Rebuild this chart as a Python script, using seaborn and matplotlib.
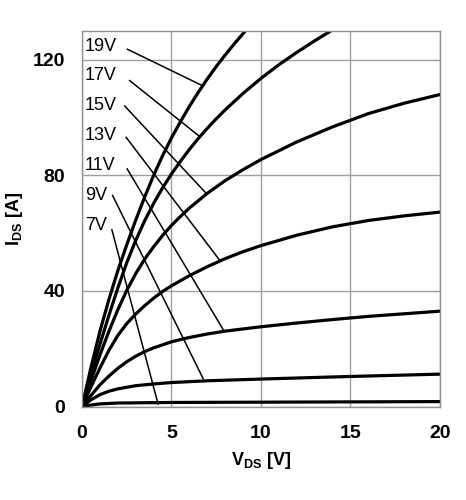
import seaborn as sns
import matplotlib.pyplot as plt

# Output characteristics, I_DS vs V_DS for several V_GS
gate_labels = ['7V', '9V', '11V', '13V', '15V', '17V', '19V']

vds_7 = [0, 0.5, 1, 2, 5, 10, 15, 20]
ids_7 = [0, 0.5, 0.9, 1.2, 1.4, 1.5, 1.6, 1.7]

vds_9 = [0, 0.5, 1, 1.5, 2, 3, 4, 5, 7, 10, 15, 20]
ids_9 = [0, 2.3, 4.1, 5.3, 6.1, 7.2, 7.8, 8.3, 8.9, 9.5, 10.4, 11.2]

vds_11 = [0, 0.5, 1, 1.5, 2, 2.5, 3, 3.5, 4, 5, 6, 7, 8, 10, 12, 14, 16, 18, 20]
ids_11 = [0, 3.8, 7.5, 10.5, 13.2, 15.5, 17.4, 19, 20.3, 22.4, 23.9, 25.1, 26.1,
          27.6, 28.9, 30.1, 31.2, 32.1, 33]

vds_13 = [0, 0.5, 1, 1.5, 2, 2.5, 3, 3.5, 4, 4.5, 5, 6, 7, 8, 9, 10, 12, 14, 16, 18, 20]
ids_13 = [0, 6.8, 13.3, 19.4, 24.6, 28.7, 32, 34.9, 37.5, 39.8, 41.8, 45.3, 48.4,
          51.2, 53.6, 55.7, 59.3, 62.2, 64.4, 66, 67.3]

vds_15 = [0, 0.5, 1, 1.5, 2, 2.5, 3, 3.5, 4, 4.5, 5, 5.5, 6, 7, 8, 9, 10, 12, 14,
          16, 18, 20]
ids_15 = [0, 9, 17.8, 26, 33.5, 40.2, 46, 51, 55.3, 59.2, 62.7, 65.8, 68.7, 73.8,
          78.2, 82, 85.5, 91.6, 96.8, 101.4, 105, 108]

vds_17 = [0, 0.5, 1, 1.5, 2, 2.5, 3, 3.5, 4, 4.5, 5, 5.5, 6, 6.5, 7, 7.5, 8, 9,
          10, 11, 12, 13, 14]
ids_17 = [0, 11, 21.5, 31.5, 41, 49.8, 57.5, 64.3, 70.3, 75.7, 80.5, 84.9, 89,
          92.8, 96.3, 99.6, 102.7, 108.4, 113.6, 118.3, 122.6, 126.6, 130.4]

vds_19 = [0, 0.5, 1, 1.5, 2, 2.5, 3, 3.5, 4, 4.5, 5, 5.5, 6, 6.5, 7, 7.5, 8, 8.5,
          9, 9.2]
ids_19 = [0, 13.5, 26, 37, 47, 56, 64.5, 72.5, 80, 86.8, 93, 98.6, 103.9, 108.8,
          113.4, 117.7, 121.7, 125.5, 129.1, 130.5]

curves_x = [vds_7, vds_9, vds_11, vds_13, vds_15, vds_17, vds_19]
curves_y = [ids_7, ids_9, ids_11, ids_13, ids_15, ids_17, ids_19]

# label text positions and leader line ends (data coords)
label_y = [62.8, 73.2, 83.5, 93.8, 104.2, 114.6, 124.6]
leader_x0 = [1.66, 1.69, 2.5, 2.44, 2.36, 2.63, 2.5]
leader_y0 = [61.4, 73.3, 82.5, 93.4, 104.2, 113, 123.8]
leader_x1 = [4.26, 6.78, 7.9, 7.71, 6.97, 6.59, 6.72]
leader_y1 = [0.6, 9.5, 26.5, 50.5, 73.6, 93.4, 111.1]

sns.set_theme(style='white')
plt.rcParams['font.family'] = ['Liberation Sans', 'DejaVu Sans']
plt.rcParams['mathtext.fontset'] = 'custom'
plt.rcParams['mathtext.rm'] = 'Liberation Sans'
plt.rcParams['mathtext.bf'] = 'Liberation Sans:bold'

fig = plt.figure(figsize=(4.66, 5), dpi=100)
ax = fig.add_axes([0.176, 0.187, 0.768, 0.751])

for xs, ys in zip(curves_x, curves_y):
    sns.lineplot(x=xs, y=ys, ax=ax, color='black', linewidth=2.3, sort=False,
                 estimator=None)

for i, lab in enumerate(gate_labels):
    ax.plot([leader_x0[i], leader_x1[i]], [leader_y0[i], leader_y1[i]],
            color='black', linewidth=1.1, solid_capstyle='butt')
    ax.text(0.17, label_y[i], lab, fontsize=13, va='center', ha='left',
            color='black')

ax.set_xlim(0, 20)
ax.set_ylim(0, 130)
ax.set_xticks([0, 5, 10, 15, 20])
ax.set_yticks([0, 40, 80, 120])
ax.grid(True, color='#a0a0a0', linewidth=1)
for sp in ax.spines.values():
    sp.set_color('#909090')
    sp.set_linewidth(1)
ax.tick_params(length=0, labelsize=14, labelcolor='black')
ax.tick_params(axis='x', pad=13)
ax.tick_params(axis='y', pad=12)
for t in ax.get_xticklabels() + ax.get_yticklabels():
    t.set_fontweight('bold')

ax.set_xlabel(r'$\mathbf{V}_{\mathbf{DS}}$ [V]', fontsize=13, fontweight='bold',
              labelpad=6, color='black')
ax.set_ylabel(r'$\mathbf{I}_{\mathbf{DS}}$ [A]', fontsize=13, fontweight='bold',
              labelpad=6, color='black')

fig.savefig('out.png', dpi=100)
